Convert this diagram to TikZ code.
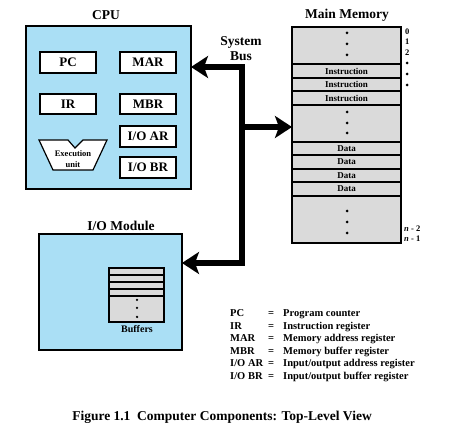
\documentclass[tikz,border=0pt]{standalone}
\usepackage{fontspec}
\setmainfont{Liberation Serif}
\usetikzlibrary{arrows.meta}
\definecolor{lblue}{RGB}{170,223,245}
\definecolor{mgray}{RGB}{218,218,218}
\tikzset{bustip/.tip={Stealth[length=17pt, width=22pt, inset=4pt]}}
\begin{document}
\begin{tikzpicture}[x=1pt,y=-1pt,
  box/.style={draw, line width=1.4pt, fill=lblue, anchor=north west, inner sep=0pt, outer sep=0pt},
  reg/.style={draw, line width=1.2pt, fill=white, anchor=north west, minimum width=56pt, minimum height=21pt, inner sep=0pt, outer sep=0pt, font=\fontsize{13}{13}\selectfont\bfseries},
  cell/.style={draw, line width=1.2pt, fill=mgray, anchor=north west, minimum width=109pt, inner sep=0pt, outer sep=0pt, font=\fontsize{9}{9}\selectfont\bfseries},
  bcell/.style={draw, line width=1.2pt, fill=mgray, anchor=north west, minimum width=55pt, inner sep=0pt, outer sep=0pt},
  ttl/.style={font=\fontsize{13.5}{15}\selectfont\bfseries, inner sep=0pt},
  dotn/.style={circle, fill=black, inner sep=0pt, minimum size=3pt},
  addr/.style={font=\fontsize{8.5}{8.5}\selectfont\bfseries, anchor=west, inner sep=0pt},
  leg/.style={font=\fontsize{10.5}{10.5}\selectfont\bfseries, anchor=base west, inner sep=0pt},
  bus/.style={line width=6pt, line join=miter}
]
\useasboundingbox (0,0) rectangle (474,427);

% CPU
\node[ttl] (cputitle) at (106,15) {CPU};
\node[box, minimum width=165pt, minimum height=163pt] (cpu) at (26,26) {};
\node[reg] (pc) at (40,52) {PC};
\node[reg] (mar) at (120,52) {MAR};
\node[reg, minimum height=20pt] (ir) at (40,94) {IR};
\node[reg, minimum height=20pt] (mbr) at (120,94) {MBR};
\node[reg] (ioar) at (120,126) {I/O AR};
\node[reg] (iobr) at (120,157) {I/O BR};
\draw[line width=1.2pt, fill=white] (39,140) -- (68,140) -- (75,148) -- (83,140) -- (107,140) -- (93,170) -- (53,170) -- cycle;
\node[font=\fontsize{8.5}{11}\selectfont\bfseries, align=center, inner sep=0pt] (eu) at (73,159.5) {Execution\\unit};

% Main memory
\node[ttl] (memtitle) at (347,15) {Main Memory};
\node[cell, minimum height=37pt] (m0) at (292,27) {};
\node[cell, minimum height=14pt] (i1) at (m0.south west) {Instruction};
\node[cell, minimum height=13pt] (i2) at (i1.south west) {Instruction};
\node[cell, minimum height=14pt] (i3) at (i2.south west) {Instruction};
\node[cell, minimum height=37pt] (mm) at (i3.south west) {};
\node[cell, minimum height=13pt] (d1) at (mm.south west) {Data};
\node[cell, minimum height=14pt] (d2) at (d1.south west) {Data};
\node[cell, minimum height=13pt] (d3) at (d2.south west) {Data};
\node[cell, minimum height=14pt] (d4) at (d3.south west) {Data};
\node[cell, minimum height=47pt] (mb) at (d4.south west) {};
\foreach \y in {33,44,55,112,123,133,211,222,233} \node[dotn] at (347,\y) {};
\node[addr] (a0) at (405,32) {0};
\node[addr] (a1) at (405,42) {1};
\node[addr] (a2) at (405,53) {2};
\foreach \y in {63,74,85} \node[dotn] at (407,\y) {};
\node[addr] (an2) at (404,229) {\textit{n} - 2};
\node[addr] (an1) at (404,239) {\textit{n} - 1};

% I/O module
\node[ttl] (iotitle) at (121,226) {I/O Module};
\node[box, minimum width=143pt, minimum height=116pt] (io) at (39,234) {};
\node[bcell, minimum height=7pt] (b1) at (109,268) {};
\node[bcell, minimum height=7pt] (b2) at (b1.south west) {};
\node[bcell, minimum height=7pt] (b3) at (b2.south west) {};
\node[bcell, minimum height=7pt] (b4) at (b3.south west) {};
\node[bcell, minimum height=26pt] (b5) at (b4.south west) {};
\foreach \y in {300,308,317} \node[dotn, minimum size=2.5pt] at (137,\y) {};
\node[font=\fontsize{10}{10}\selectfont\bfseries, inner sep=0pt] (buf) at (137,329) {Buffers};

% System bus
\node[ttl, align=center] (sb) at (241,49) {System\\Bus};
\coordinate (bt) at (242,67);
\coordinate (bb) at (242,263);
\coordinate (bm) at (242,127);
\draw[bus, {bustip}-{bustip}] (cpu.east |- bt) -- (bt) -- (bb) -- (io.east |- bb);
\draw[bus, -{bustip}] (bm) -- (m0.west |- bm);

% Legend
\node[leg] (l1a) at (230,317) {PC};
\node[leg] (l1b) at (268,317) {=};
\node[leg] (l1c) at (283,317) {Program counter};
\node[leg] (l2a) at (230,330) {IR};
\node[leg] (l2b) at (268,330) {=};
\node[leg] (l2c) at (283,330) {Instruction register};
\node[leg] (l3a) at (230,342) {MAR};
\node[leg] (l3b) at (268,342) {=};
\node[leg] (l3c) at (283,342) {Memory address register};
\node[leg] (l4a) at (230,355) {MBR};
\node[leg] (l4b) at (268,355) {=};
\node[leg] (l4c) at (283,355) {Memory buffer register};
\node[leg] (l5a) at (230,367) {I/O AR};
\node[leg] (l5b) at (268,367) {=};
\node[leg] (l5c) at (283,367) {Input/output address register};
\node[leg] (l6a) at (230,380) {I/O BR};
\node[leg] (l6b) at (268,380) {=};
\node[leg] (l6c) at (283,380) {Input/output buffer register};

% Caption
\node[font=\fontsize{13.5}{14}\selectfont\bfseries, inner sep=0pt] (cap) at (222,417) {Figure 1.1\ \ Computer Components: Top-Level View};
\end{tikzpicture}
\end{document}
